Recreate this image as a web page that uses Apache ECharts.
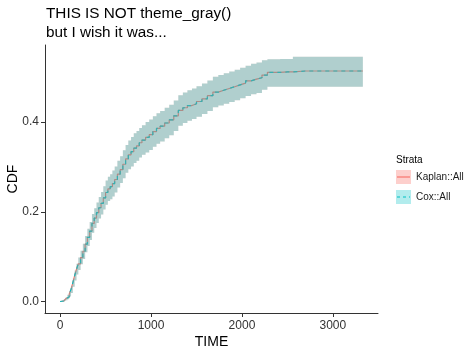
<!DOCTYPE html>
<html><head><meta charset="utf-8">
<script src="https://cdn.jsdelivr.net/npm/echarts@6/dist/echarts.min.js"></script>
<style>html,body{margin:0;padding:0;background:#fff}#c{width:474px;height:352px}</style>
</head><body><div id="c"></div>
<script>
const times = [0,20,40,60,80,100,120,140,160,180,200,225,250,275,300,325,350,375,400,425,450,475,500,525,550,575,600,630,660,690,720,750,780,810,840,870,900,940,980,1020,1060,1100,1150,1200,1250,1300,1350,1400,1450,1500,1560,1620,1680,1740,1800,1860,1920,1980,2040,2100,2160,2220,2280,2350,2420,2500,2560,2700,2900,3100,3330];
const kaplanCdf = [0,.001,.003,.006,.010,.017,.027,.042,.058,.072,.084,.098,.112,.128,.143,.157,.174,.186,.198,.209,.219,.231,.243,.251,.256,.263,.272,.284,.294,.306,.318,.327,.334,.342,.347,.354,.360,.366,.372,.379,.386,.391,.398,.405,.414,.426,.432,.437,.441,.446,.452,.459,.467,.471,.475,.479,.483,.487,.492,.496,.499,.505,.511,.511,.512,.512,.514,.514,.514,.514,.514];
const kaplanUpper = [0,.002,.005,.009,.015,.023,.035,.051,.069,.084,.098,.113,.129,.146,.162,.177,.195,.208,.221,.233,.244,.257,.270,.278,.284,.292,.301,.314,.324,.337,.349,.359,.367,.375,.380,.387,.393,.400,.406,.413,.420,.425,.432,.439,.448,.460,.466,.471,.475,.480,.486,.493,.501,.505,.509,.513,.517,.521,.526,.530,.533,.538,.540,.540,.541,.541,.546,.546,.546,.546,.546];
const kaplanLower = [0,0,.001,.003,.005,.011,.019,.033,.047,.060,.070,.083,.095,.110,.124,.137,.153,.164,.175,.185,.194,.205,.216,.224,.228,.234,.243,.254,.264,.275,.287,.295,.301,.309,.314,.321,.327,.332,.338,.345,.352,.357,.364,.371,.380,.392,.398,.403,.407,.412,.418,.425,.433,.437,.441,.445,.449,.453,.458,.462,.465,.472,.479,.479,.479,.479,.479,.479,.479,.479,.479];
const coxCdf = [0,.001,.003,.006,.010,.017,.027,.042,.058,.072,.084,.098,.112,.128,.143,.157,.174,.186,.198,.209,.219,.231,.243,.251,.256,.263,.272,.284,.294,.306,.318,.327,.334,.342,.347,.354,.360,.366,.372,.379,.386,.391,.398,.405,.414,.426,.432,.437,.441,.446,.452,.459,.467,.471,.475,.479,.483,.487,.492,.496,.499,.505,.511,.511,.512,.512,.514,.514,.514,.514,.514];
const coxUpper = [0,.002,.005,.009,.015,.023,.035,.051,.069,.084,.098,.113,.129,.146,.162,.177,.195,.208,.221,.233,.244,.257,.270,.278,.284,.292,.301,.314,.324,.337,.349,.359,.367,.375,.380,.387,.393,.400,.406,.413,.420,.425,.432,.439,.448,.460,.466,.471,.475,.480,.486,.493,.501,.505,.509,.513,.517,.521,.526,.530,.533,.538,.540,.540,.541,.541,.546,.546,.546,.546,.546];
const coxLower = [0,0,.001,.003,.005,.011,.019,.033,.047,.060,.070,.083,.095,.110,.124,.137,.153,.164,.175,.185,.194,.205,.216,.224,.228,.234,.243,.254,.264,.275,.287,.295,.301,.309,.314,.321,.327,.332,.338,.345,.352,.357,.364,.371,.380,.392,.398,.403,.407,.412,.418,.425,.433,.437,.441,.445,.449,.453,.458,.462,.465,.472,.479,.479,.479,.479,.479,.479,.479,.479,.479];
const xTicks = [0,1000,2000,3000];
const yTicks = [0,0.2,0.4];
const strataNames = ['Kaplan::All','Cox::All'];

const RED = '#F8766D', CYAN = '#00BFC4';
const pairs = (ys) => times.map((t,i)=>[t, ys[i]]);
const FONT = 'Liberation Sans, Arial, sans-serif';

// step-shaped ribbon polygon drawn through the axis scales (api.coord)
function bandSeries(name, lo, up, color) {
  return {
    name:name, type:'custom', silent:true, z:3,
    itemStyle:{color:color, opacity:0.3},
    data:[[0, 0]],
    encode:{x:0, y:1},
    renderItem:function(params, api){
      const pts = [];
      for (let i=0;i<times.length;i++){
        const t1 = times[i], t2 = (i+1<times.length)?times[i+1]:times[i];
        pts.push(api.coord([t1, up[i]]));
        pts.push(api.coord([t2, up[i]]));
      }
      for (let i=times.length-1;i>=0;i--){
        const t1 = times[i], t2 = (i+1<times.length)?times[i+1]:times[i];
        pts.push(api.coord([t2, lo[i]]));
        pts.push(api.coord([t1, lo[i]]));
      }
      return {type:'polygon', shape:{points:pts}, style:{fill:color, opacity:0.3}};
    }
  };
}

const chart = echarts.init(document.getElementById('c'), null, {renderer:'canvas'});
chart.setOption({
  animation:false,
  backgroundColor:'#fff',
  title:[
    {text:'THIS IS NOT theme_gray()\nbut I wish it was...', left:46, top:4, padding:0,
     textStyle:{fontFamily:FONT, fontSize:15.3, fontWeight:'normal', color:'#000', lineHeight:19}},
    {text:'Strata', left:396, top:155, padding:0, textStyle:{fontFamily:FONT, fontSize:10, fontWeight:'normal', color:'#000'}}
  ],
  grid:{left:45, right:96, top:45, bottom:39, containLabel:false, outerBoundsMode:'none'},
  legend:{
    orient:'vertical', left:396, top:170, padding:0, itemWidth:15, itemHeight:14, itemGap:6, selectedMode:false,
    textStyle:{fontFamily:FONT, fontSize:10, color:'#1a1a1a'},
    data:[
      {name:strataNames[0], icon:'rect', itemStyle:{color:'rgba(248,118,109,0.35)', opacity:1}},
      {name:strataNames[1], icon:'rect', itemStyle:{color:'rgba(0,191,196,0.3)', opacity:1}}
    ]
  },
  graphic:[
    {type:'line', shape:{x1:397, y1:177, x2:410, y2:177}, style:{stroke:RED, lineWidth:1.2}, z:100},
    {type:'line', shape:{x1:397, y1:197, x2:410, y2:197}, style:{stroke:CYAN, lineWidth:1.2, lineDash:[3,3]}, z:100}
  ],
  xAxis:{
    type:'value', min:-166.5, max:3496.5, name:'TIME', nameLocation:'middle', nameGap:22, nameMoveOverlap:false,
    nameTextStyle:{fontFamily:FONT, fontSize:14, color:'#000'},
    axisLine:{onZero:false, lineStyle:{color:'#333', width:1}},
    axisTick:{show:true, length:4, customValues:xTicks, lineStyle:{color:'#333'}},
    axisLabel:{customValues:xTicks, fontFamily:FONT, fontSize:12, color:'#333', margin:7,
      formatter:(v)=>String(v)},
    splitLine:{show:false}
  },
  yAxis:{
    type:'value', min:-0.0257, max:0.572, name:'CDF', nameLocation:'middle', nameGap:25, nameRotate:90, nameMoveOverlap:false,
    nameTextStyle:{fontFamily:FONT, fontSize:14, color:'#000'},
    axisLine:{show:true, onZero:false, lineStyle:{color:'#333', width:1}},
    axisTick:{show:true, length:4, customValues:yTicks, lineStyle:{color:'#333'}},
    axisLabel:{customValues:yTicks, fontFamily:FONT, fontSize:12, color:'#333', margin:6,
      formatter:(v)=>v.toFixed(1)},
    splitLine:{show:false}
  },
  series:[
    {name:'Kaplan::All estimate', type:'line', step:'end', data:pairs(kaplanCdf), symbol:'none',
     lineStyle:{color:RED, width:1.2}, itemStyle:{color:RED}, z:2},
    {name:'Cox::All estimate', type:'line', step:'end', data:pairs(coxCdf), symbol:'none',
     lineStyle:{color:CYAN, width:1.2, type:[4,4]}, itemStyle:{color:CYAN}, z:2},
    bandSeries(strataNames[0], kaplanLower, kaplanUpper, RED),
    bandSeries(strataNames[1], coxLower, coxUpper, CYAN)
  ]
});
</script></body></html>
